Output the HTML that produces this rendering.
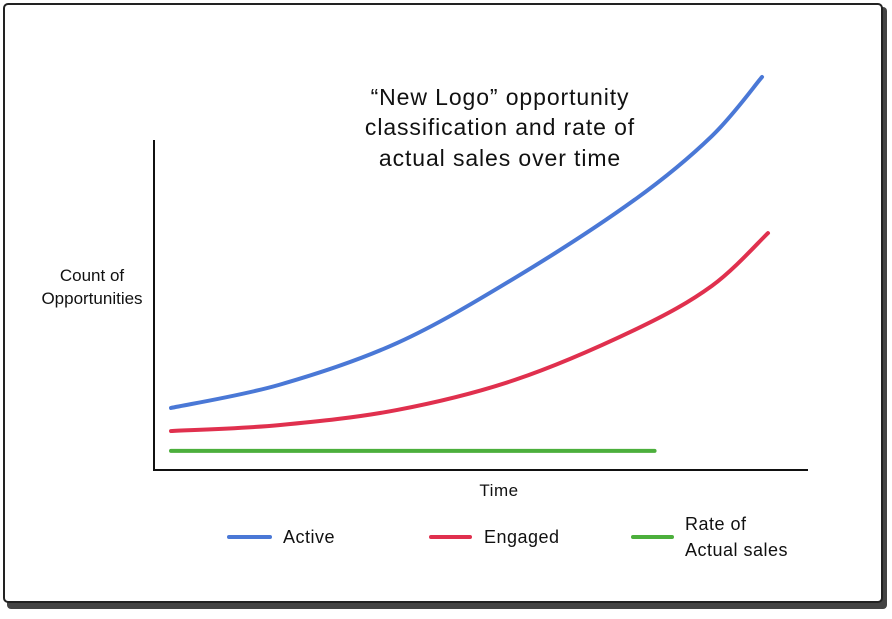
<!DOCTYPE html>
<html><head><meta charset="utf-8"><style>
html,body{margin:0;padding:0;background:#fff;}
body{width:892px;height:614px;overflow:hidden;font-family:"Liberation Sans",sans-serif;}
</style></head><body>
<svg width="892" height="614" viewBox="0 0 892 614">
<rect x="7" y="7" width="880" height="602" rx="4" fill="#444"/>
<rect x="4" y="4" width="878" height="598" rx="4" fill="#fff" stroke="#222" stroke-width="2"/>
<g font-size="23" letter-spacing="0.9" fill="#111" text-anchor="middle">
<text x="500" y="105">“New Logo” opportunity</text>
<text x="500" y="135">classification and rate of</text>
<text x="500" y="166">actual sales over time</text>
</g>
<g font-size="17" fill="#111" text-anchor="middle">
<text x="92" y="281">Count of</text>
<text x="92" y="304">Opportunities</text>
</g>
<text x="499" y="496" font-size="17" letter-spacing="0.5" fill="#111" text-anchor="middle">Time</text>
<line x1="154" y1="140" x2="154" y2="471" stroke="#111" stroke-width="2"/>
<line x1="153" y1="470" x2="808" y2="470" stroke="#111" stroke-width="2"/>
<g id="series"></g>
<g font-size="18" letter-spacing="0.5" fill="#111">
<line x1="229" y1="537" x2="270" y2="537" stroke="#4a78d6" stroke-width="4" stroke-linecap="round"/>
<text x="283" y="543">Active</text>
<line x1="431" y1="537" x2="470" y2="537" stroke="#e0304e" stroke-width="4" stroke-linecap="round"/>
<text x="484" y="543">Engaged</text>
<line x1="633" y1="537" x2="672" y2="537" stroke="#4caf3c" stroke-width="4" stroke-linecap="round"/>
<text x="685" y="530">Rate of</text>
<text x="685" y="556">Actual sales</text>
</g>
</svg>
<script>
const activeT = [0,1.81,3.79,5.76,7.76,9.06,9.9];
const activeV = [18.8,25.8,38.5,58.2,81.8,101.2,119.1];
const engagedT = [0,1.81,3.79,5.76,7.76,9.06,10];
const engagedV = [11.8,13.6,18.2,27.3,42.4,55.8,71.8];
const rateT = [0,8.1];
const rateV = [5.8,5.8];
function xs(t){return 171+t*59.7;}
function ys(v){return 470-v*3.3;}
function smooth(pts){
  let d='M'+pts[0][0]+','+pts[0][1];
  for(let i=0;i<pts.length-1;i++){
    const p0=pts[i-1]||pts[i],p1=pts[i],p2=pts[i+1],p3=pts[i+2]||p2;
    const c1=[p1[0]+(p2[0]-p0[0])/6,p1[1]+(p2[1]-p0[1])/6];
    const c2=[p2[0]-(p3[0]-p1[0])/6,p2[1]-(p3[1]-p1[1])/6];
    d+=' C'+c1.join(',')+' '+c2.join(',')+' '+p2.join(',');
  }
  return d;
}
const g=document.getElementById('series');
function draw(T,V,color,name){
  const p=document.createElementNS('http://www.w3.org/2000/svg','path');
  p.setAttribute('d',smooth(T.map((t,i)=>[xs(t),ys(V[i])])));
  p.setAttribute('fill','none');
  p.setAttribute('stroke',color);
  p.setAttribute('stroke-width','4');
  p.setAttribute('stroke-linecap','round');
  
  
  g.appendChild(p);
}
draw(activeT,activeV,'#4a78d6','series-active');
draw(engagedT,engagedV,'#e0304e','series-engaged');
draw(rateT,rateV,'#4caf3c','series-rate-of-actual-sales');
</script>
</body></html>
